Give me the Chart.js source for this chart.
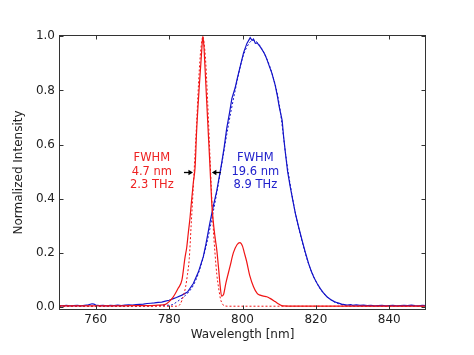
<!DOCTYPE html>
<html>
<head>
<meta charset="utf-8">
<script src="https://cdn.jsdelivr.net/npm/chart.js@4.4.1/dist/chart.umd.min.js"></script>
<style>
html,body{margin:0;padding:0;background:#fff;}
#wrap{width:474px;height:355px;}
</style>
</head>
<body>
<div id="wrap"><canvas id="c" width="474" height="355"></canvas></div>
<script>
// ---- data ----
const xTicks = [760, 780, 800, 820, 840];
const yTicks = [0.0, 0.2, 0.4, 0.6, 0.8, 1.0];

const redMeasured = [[750,.004],[755,.004],[760,.004],[765,.004],[770,.005],[774,.005],[777,.007],[779,.01],[780,.02],[781,.035],[781.7,.05],[782.5,.07],[783.5,.10],[784.3,.18],[784.8,.22],[785.2,.27],[785.7,.33],[786.1,.39],[786.6,.46],[787.1,.52],[787.5,.65],[788.2,.81],[788.9,.95],[789.2,1.0],[789.5,.96],[789.8,.88],[790.5,.69],[791.1,.53],[791.6,.39],[792,.32],[792.5,.26],[793,.21],[793.5,.14],[793.9,.08],[794.3,.04],[794.8,.045],[795.5,.09],[796.6,.15],[797.5,.20],[798.5,.23],[799.3,.238],[800,.225],[800.5,.20],[801.1,.17],[802,.115],[803,.075],[804,.05],[804.8,.044],[805.7,.04],[806.6,.038],[807.5,.032],[808.9,.02],[810,.01],[811,.004],[815,.003],[820,.003],[830,.003],[840,.003],[850,.003]];

const redFit = [[750,.003],[770,.003],[782,.003],[782.5,.004],[783,.01],[783.5,.025],[784,.045],[784.5,.075],[785,.12],[785.5,.18],[786,.30],[786.5,.42],[787,.55],[787.5,.68],[788,.82],[788.5,.93],[789,.99],[789.2,1.0],[789.5,.98],[790,.9],[790.5,.76],[791,.6],[791.5,.44],[792,.30],[792.5,.2],[793,.12],[793.5,.07],[794,.03],[794.5,.012],[795,.005],[796,.003],[810,.003],[830,.003],[850,.003]];

const blueMeasured = [[750,.005],[751,.004],[752,.006],[753,.004],[754,.005],[755,.006],[756,.004],[757,.006],[758,.008],[759,.012],[759.5,.011],[760,.007],[761,.005],[762,.006],[763,.004],[764,.006],[765,.005],[766,.007],[767,.005],[768,.007],[769,.008],[770,.007],[771,.009],[772,.01],[773,.011],[774,.013],[775,.014],[776,.015],[777,.017],[778,.018],[779,.022],[780,.025],[781,.03],[782,.035],[783.5,.044],[785,.055],[786.6,.087],[788,.13],[789.3,.185],[790,.23],[791.1,.31],[792,.37],[793,.43],[794.3,.53],[795,.59],[795.7,.66],[796.5,.72],[797.1,.77],[798,.81],[798.5,.84],[799.4,.89],[800.3,.94],[801.2,.974],[802.1,.995],[802.6,.985],[803,.99],[803.5,.974],[804,.976],[804.8,.962],[805.7,.943],[806.2,.93],[806.7,.913],[807.3,.89],[808,.864],[808.9,.82],[809.5,.78],[810,.74],[810.8,.69],[811.2,.63],[811.7,.568],[812.3,.50],[813,.445],[813.7,.395],[814.4,.346],[815.3,.295],[816.2,.248],[817.1,.203],[818,.161],[818.8,.13],[819.5,.108],[820.3,.088],[821.2,.068],[822,.053],[823,.038],[824,.028],[825,.02],[825.8,.016],[827,.011],[828.5,.007],[829.5,.009],[830,.006],[831,.008],[832,.006],[833,.007],[834,.005],[835,.006],[836,.004],[837,.005],[838,.006],[839,.004],[840,.005],[841,.006],[842,.004],[843,.005],[844,.006],[845,.005],[846,.007],[847,.005],[848,.004],[849,.006],[850,.005]];

const blueFit = [[750,.003],[770,.003],[775,.004],[778,.006],[780.7,.008],[782,.018],[783.5,.033],[785,.05],[786.6,.08],[788,.125],[790,.22],[792,.35],[794,.50],[796,.66],[798,.80],[800,.92],[802,.978],[803,.985],[804,.978],[806,.935],[808,.865],[810,.75],[812,.54],[814,.375],[816,.255],[818,.16],[820,.095],[822,.052],[824,.027],[826,.013],[828,.006],[830,.004],[835,.003],[850,.003]];

const annotations = [
  {lines:['FWHM','4.7 nm','2.3 THz'], x:775.3, y:0.5, color:'#ee2222'},
  {lines:['FWHM','19.6 nm','8.9 THz'], x:803.5, y:0.5, color:'#2222cc'}
];
const arrows = [
  {x:786.5, y:0.497, dir:1},
  {x:791.65, y:0.497, dir:-1}
];

const FONT = "'DejaVu Sans', sans-serif";
const toPts = arr => arr.map(p => ({x:p[0], y:p[1]}));

const overlay = {
  id:'overlay',
  afterDatasetsDraw(chart){
    const {ctx, chartArea:a, scales:{x, y}} = chart;
    ctx.save();
    // frame
    ctx.strokeStyle = '#333';
    ctx.lineWidth = 1;
    const L = Math.round(a.left)+0.5, R = Math.round(a.right)-0.5, T = Math.round(a.top)+0.5, B = Math.round(a.bottom)-0.5;
    ctx.strokeRect(L, T, R-L, B-T);
    // inner ticks on all four sides
    ctx.beginPath();
    xTicks.forEach(v => {
      const px = Math.round(x.getPixelForValue(v))+0.5;
      ctx.moveTo(px, B); ctx.lineTo(px, B-4);
      ctx.moveTo(px, T); ctx.lineTo(px, T+4);
    });
    yTicks.forEach(v => {
      const py = Math.round(y.getPixelForValue(v))+0.5;
      ctx.moveTo(L, py); ctx.lineTo(L+4, py);
      ctx.moveTo(R, py); ctx.lineTo(R-4, py);
    });
    ctx.stroke();
    // annotation text
    ctx.font = "11.5px " + FONT;
    ctx.textAlign = 'center';
    ctx.textBaseline = 'middle';
    annotations.forEach(an => {
      const cx = x.getPixelForValue(an.x), cy = y.getPixelForValue(an.y);
      ctx.fillStyle = an.color;
      an.lines.forEach((t, i) => ctx.fillText(t, cx, cy + (i-1)*13.6));
    });
    // arrows
    ctx.fillStyle = '#000';
    ctx.strokeStyle = '#000';
    ctx.lineWidth = 1.3;
    arrows.forEach(ar => {
      const tx = x.getPixelForValue(ar.x), ty = y.getPixelForValue(ar.y);
      const tail = tx - ar.dir*9;
      ctx.beginPath();
      ctx.moveTo(tail, ty); ctx.lineTo(tx - ar.dir*3, ty);
      ctx.stroke();
      ctx.beginPath();
      ctx.moveTo(tx, ty);
      ctx.lineTo(tx - ar.dir*4.5, ty-2.8);
      ctx.lineTo(tx - ar.dir*4.5, ty+2.8);
      ctx.closePath();
      ctx.fill();
    });
    ctx.restore();
  }
};

const font12 = {family: FONT, size: 12};

new Chart(document.getElementById('c'), {
  type: 'line',
  data: {
    datasets: [
      {data: toPts(redMeasured), borderColor:'#f01414', borderWidth:1.2, pointRadius:0, cubicInterpolationMode:'monotone', fill:false},
      {data: toPts(redFit), borderColor:'#f01414', borderWidth:1, borderDash:[2,2], pointRadius:0, cubicInterpolationMode:'monotone', fill:false},
      {data: toPts(blueMeasured), borderColor:'#1414c8', borderWidth:1.2, pointRadius:0, tension:0, fill:false},
      {data: toPts(blueFit), borderColor:'#1414c8', borderWidth:1, borderDash:[2,2], pointRadius:0, cubicInterpolationMode:'monotone', fill:false}
    ]
  },
  options: {
    responsive:false,
    animation:false,
    parsing:false,
    layout:{padding:{left:0, right:48, top:35, bottom:0}},
    plugins:{legend:{display:false}, tooltip:{enabled:false}},
    scales:{
      x:{
        type:'linear', min:750, max:850,
        afterBuildTicks: s => { s.ticks = xTicks.map(v => ({value:v})); },
        afterFit: s => { s.height = 45; },
        grid:{display:false, drawTicks:false},
        border:{display:false},
        ticks:{padding:3, font:font12, color:'#222', maxRotation:0, autoSkip:false, callback: v => String(v)},
        title:{display:true, text:'Wavelength [nm]', font:font12, color:'#222', padding:{top:0, bottom:12.8}}
      },
      y:{
        type:'linear', min:-0.011, max:1.005,
        afterBuildTicks: s => { s.ticks = yTicks.map(v => ({value:v})); },
        afterFit: s => { s.width = 59; },
        grid:{display:false, drawTicks:false},
        border:{display:false},
        ticks:{padding:4, font:font12, color:'#222', autoSkip:false, callback: v => v.toFixed(1)},
        title:{display:true, text:'Normalized Intensity', font:font12, color:'#222', padding:{top:11.8, bottom:0}}
      }
    }
  },
  plugins:[overlay]
});
</script>
</body>
</html>
